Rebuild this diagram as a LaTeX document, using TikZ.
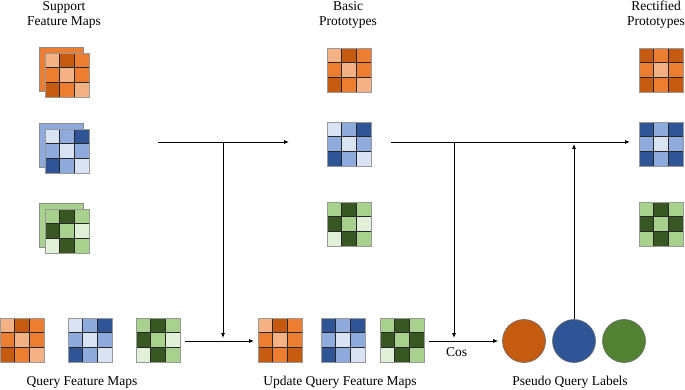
\documentclass[tikz,border=0pt]{standalone}
\usepackage{fontspec}
\setmainfont{Liberation Serif}
\usetikzlibrary{arrows.meta, calc}
\definecolor{oL}{HTML}{F4B183}
\definecolor{oM}{HTML}{ED7D31}
\definecolor{oD}{HTML}{C55A11}
\definecolor{bL}{HTML}{DAE3F3}
\definecolor{bM}{HTML}{8FAADC}
\definecolor{bD}{HTML}{2F5597}
\definecolor{gL}{HTML}{E2F0D9}
\definecolor{gM}{HTML}{A9D18E}
\definecolor{gD}{HTML}{385723}
\definecolor{gC}{HTML}{548235}

\tikzset{
  mapbox/.style={minimum size=44pt, inner sep=0pt, outer sep=0pt},
  conn/.style={line width=0.8pt, -{Latex[length=5pt,width=4pt]}},
  lbl/.style={font=\fontsize{13.5}{15}\selectfont, align=center, inner sep=0pt},
  lblcirc/.style={circle, minimum size=43pt, inner sep=0pt, draw=black!60, line width=0.6pt}
}

% one 3x3 feature map: name, centre, nine colours (row by row)
\newcommand{\fmap}[3]{%
  \node[mapbox] (#1) at (#2) {};
  \foreach \mc [count=\i from 0] in {#3} {
    \pgfmathtruncatemacro{\mcol}{mod(\i,3)}
    \pgfmathtruncatemacro{\mrow}{floor(\i/3)}
    \filldraw[fill=\mc, draw=black!85, line width=0.6pt]
      ($(#1.north west)+(\mcol*14.667,\mrow*14.667)$) rectangle ++(14.667,14.667);
  }
  \draw[black!40, line width=0.9pt] (#1.north west) rectangle (#1.south east);
}
% a map with a plain sheet behind it
\newcommand{\fstack}[4]{%
  \filldraw[fill=#4, draw=black!45, line width=0.9pt]
    ($(#2)+(-28,-28)$) rectangle ++(44,44);
  \fmap{#1}{#2}{#3}
}

\begin{document}
\begin{tikzpicture}[x=1pt, y=-1pt]
  \useasboundingbox (0,0) rectangle (685,390);

  % support feature maps
  \node[lbl] (tsup) at (64,15) {Support\\Feature Maps};
  \fstack{so}{67,75}{oL,oD,oM,oM,oL,oM,oD,oM,oL}{oM}
  \fstack{sb}{67,151}{bL,bM,bD,bM,bL,bM,bD,bM,bL}{bM}
  \fstack{sg}{67,231}{gM,gD,gM,gD,gM,gL,gL,gD,gM}{gM}

  % basic prototypes
  \node[lbl] (tbas) at (348,15) {Basic\\Prototypes};
  \fmap{po}{349,70}{oL,oD,oM,oM,oL,oM,oD,oM,oL}
  \fmap{pb}{349,144}{bL,bM,bD,bM,bL,bM,bD,bM,bL}
  \fmap{pg}{349,224}{gM,gD,gM,gD,gM,gL,gL,gD,gM}

  % rectified prototypes
  \node[lbl] (trec) at (656,15) {Rectified\\Prototypes};
  \fmap{ro}{661,70}{oD,oM,oD,oM,oL,oM,oD,oM,oD}
  \fmap{rb}{661,144}{bD,bM,bD,bM,bL,bM,bD,bM,bD}
  \fmap{rg}{661,224}{gM,gD,gM,gD,gM,gD,gM,gD,gM}

  % query feature maps
  \fmap{qo}{22,340}{oL,oD,oM,oM,oL,oM,oD,oM,oL}
  \fmap{qb}{90,340}{bL,bM,bD,bM,bL,bM,bD,bM,bL}
  \fmap{qg}{158,340}{gM,gD,gM,gD,gM,gL,gL,gD,gM}
  \node[lbl] (tqry) at (82,382) {Query Feature Maps};

  % updated query feature maps
  \fmap{uo}{280,340}{oL,oD,oM,oM,oL,oM,oD,oM,oD}
  \fmap{ub}{343,340}{bD,bM,bD,bM,bL,bM,bD,bM,bL}
  \fmap{ug}{402,340}{gM,gD,gM,gD,gM,gD,gL,gD,gM}
  \node[lbl] (tupd) at (340,382) {Update Query Feature Maps};

  % pseudo labels
  \node[lblcirc, fill=oD] (lo) at (524,341) {};
  \node[lblcirc, fill=bD] (lb) at (574,341) {};
  \node[lblcirc, fill=gC] (lg) at (624,341) {};
  \node[lbl] (tpse) at (570,382) {Pseudo Query Labels};

  % connectors
  \coordinate (s1) at (158,142);
  \coordinate (j1) at (223,142);
  \coordinate (p1) at (289,142);
  \coordinate (d1) at (223,338);
  \coordinate (p2) at (391,142);
  \coordinate (j2) at (454,142);
  \coordinate (r2) at (630,142);
  \coordinate (d2) at (454,338);
  \coordinate (u2) at (574,144);

  \draw[conn] (s1) -- (p1);
  \draw[conn] (j1) -- (d1);
  \draw[conn] ($(qg.east)+(5,1)$) -- ($(uo.west)+(-4,1)$);
  \draw[conn] (p2) -- (r2);
  \draw[conn] (j2) -- (d2);
  \draw[conn] ($(ug.east)+(5,1)$) -- node[lbl, below=6pt, pos=0.4] {Cos} ($(lo.west)+(-4,0)$);
  \draw[conn] (lb.north) -- (u2);
\end{tikzpicture}
\end{document}
